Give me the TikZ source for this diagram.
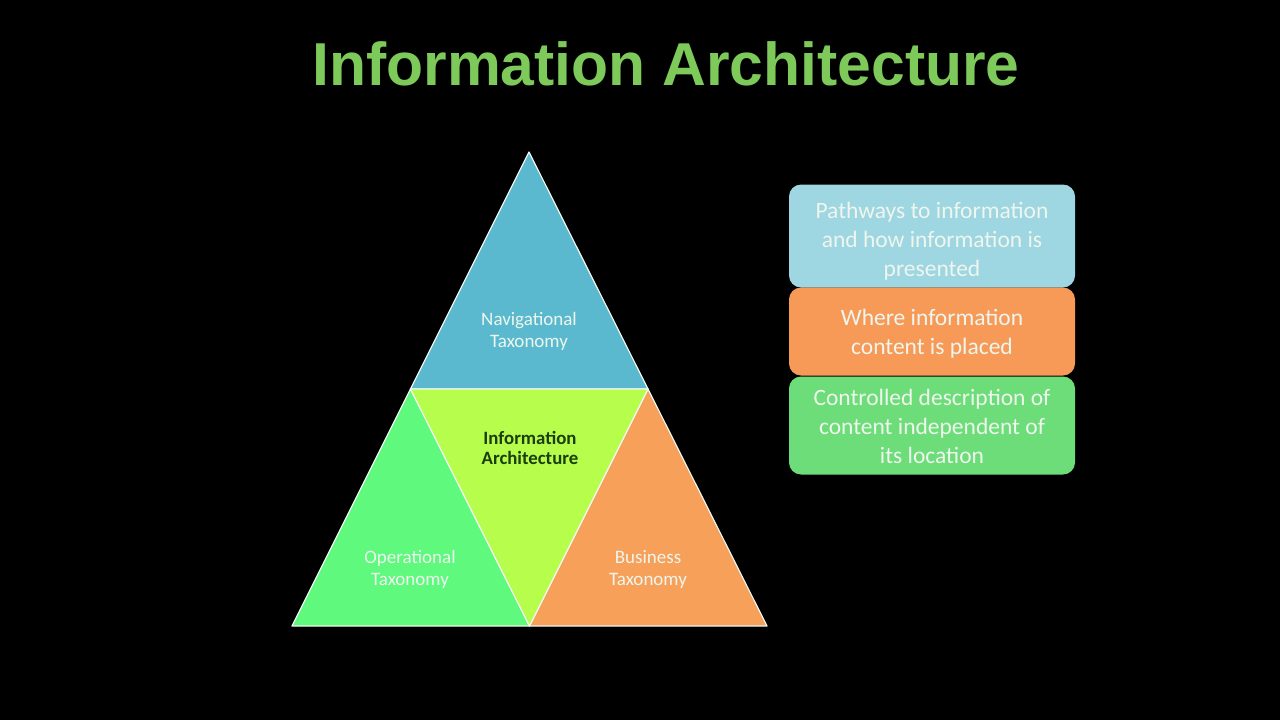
\documentclass[tikz,border=0pt]{standalone}
\usepackage{fontspec}
\setmainfont{Carlito}
\newfontfamily\titlefont{Liberation Sans}

\definecolor{titlegreen}{HTML}{7DC95A}
\definecolor{navblue}{HTML}{5BB9CF}
\definecolor{archlime}{HTML}{B6FD4C}
\definecolor{opgreen}{HTML}{5FF97E}
\definecolor{busorange}{HTML}{F7A05A}
\definecolor{archtext}{HTML}{1C3D0C}
\definecolor{boxblue}{HTML}{9ED6E2}
\definecolor{boxorange}{HTML}{F79A58}
\definecolor{boxgreen}{HTML}{6CDD78}
\definecolor{pale}{HTML}{EEF6EE}

\tikzset{
  facet/.style={draw=pale, line width=1.2pt, line join=round},
  facetlabel/.style={align=center, font=\fontsize{19}{22}\selectfont, text=pale},
  infobox/.style={rounded corners=12pt, minimum width=286pt, inner sep=0pt},
  boxtext/.style={align=center, text=pale, font=\fontsize{23.5}{29}\selectfont}
}

\begin{document}
\begin{tikzpicture}[x=1pt,y=-1pt]
  % Background and page size
  \fill[black] (0,0) rectangle (1280,720);
  \useasboundingbox (0,0) rectangle (1280,720);

  % Title
  \node[font=\titlefont\bfseries\fontsize{60.6}{60}\selectfont, text=titlegreen] (title) at (666,64) {Information Architecture};

  % Corners of the pyramid and midpoints of its sides
  \coordinate (apex) at (529,152);
  \coordinate (bl) at (292,626);
  \coordinate (br) at (767,626);
  \coordinate (ml) at (410.5,389);
  \coordinate (mr) at (648,389);
  \coordinate (mb) at (529.5,626);

  % The four facets
  \filldraw[facet, fill=navblue] (apex) -- (ml) -- (mr) -- cycle;
  \filldraw[facet, fill=opgreen] (ml) -- (bl) -- (mb) -- cycle;
  \filldraw[facet, fill=busorange] (mr) -- (mb) -- (br) -- cycle;
  \filldraw[facet, fill=archlime] (ml) -- (mr) -- (mb) -- cycle;

  % Facet labels
  \node[facetlabel] (nav) at (529,331) {Navigational\\Taxonomy};
  \node[facetlabel, font=\bfseries\fontsize{18.8}{20}\selectfont, text=archtext] (arch) at (530,448) {Information\\Architecture};
  \node[facetlabel] (oper) at (410,569) {Operational\\Taxonomy};
  \node[facetlabel] (bus) at (648,569) {Business\\Taxonomy};

  % Description boxes on the right
  \node[infobox, fill=boxblue, minimum height=103pt] (pathbox) at (932,236) {};
  \node[infobox, fill=boxorange, minimum height=88pt] (placebox) at (932,331.5) {};
  \node[infobox, fill=boxgreen, minimum height=98pt] (descbox) at (932,425.5) {};
  \node[boxtext, yshift=-5pt] (pathtext) at (pathbox.center) {Pathways to information\\and how information is\\presented};
  \node[boxtext, yshift=-2pt] (placetext) at (placebox.center) {Where information\\content is placed};
  \node[boxtext, yshift=-1pt] (desctext) at (descbox.center) {Controlled description of\\content independent of\\its location};
\end{tikzpicture}
\end{document}
